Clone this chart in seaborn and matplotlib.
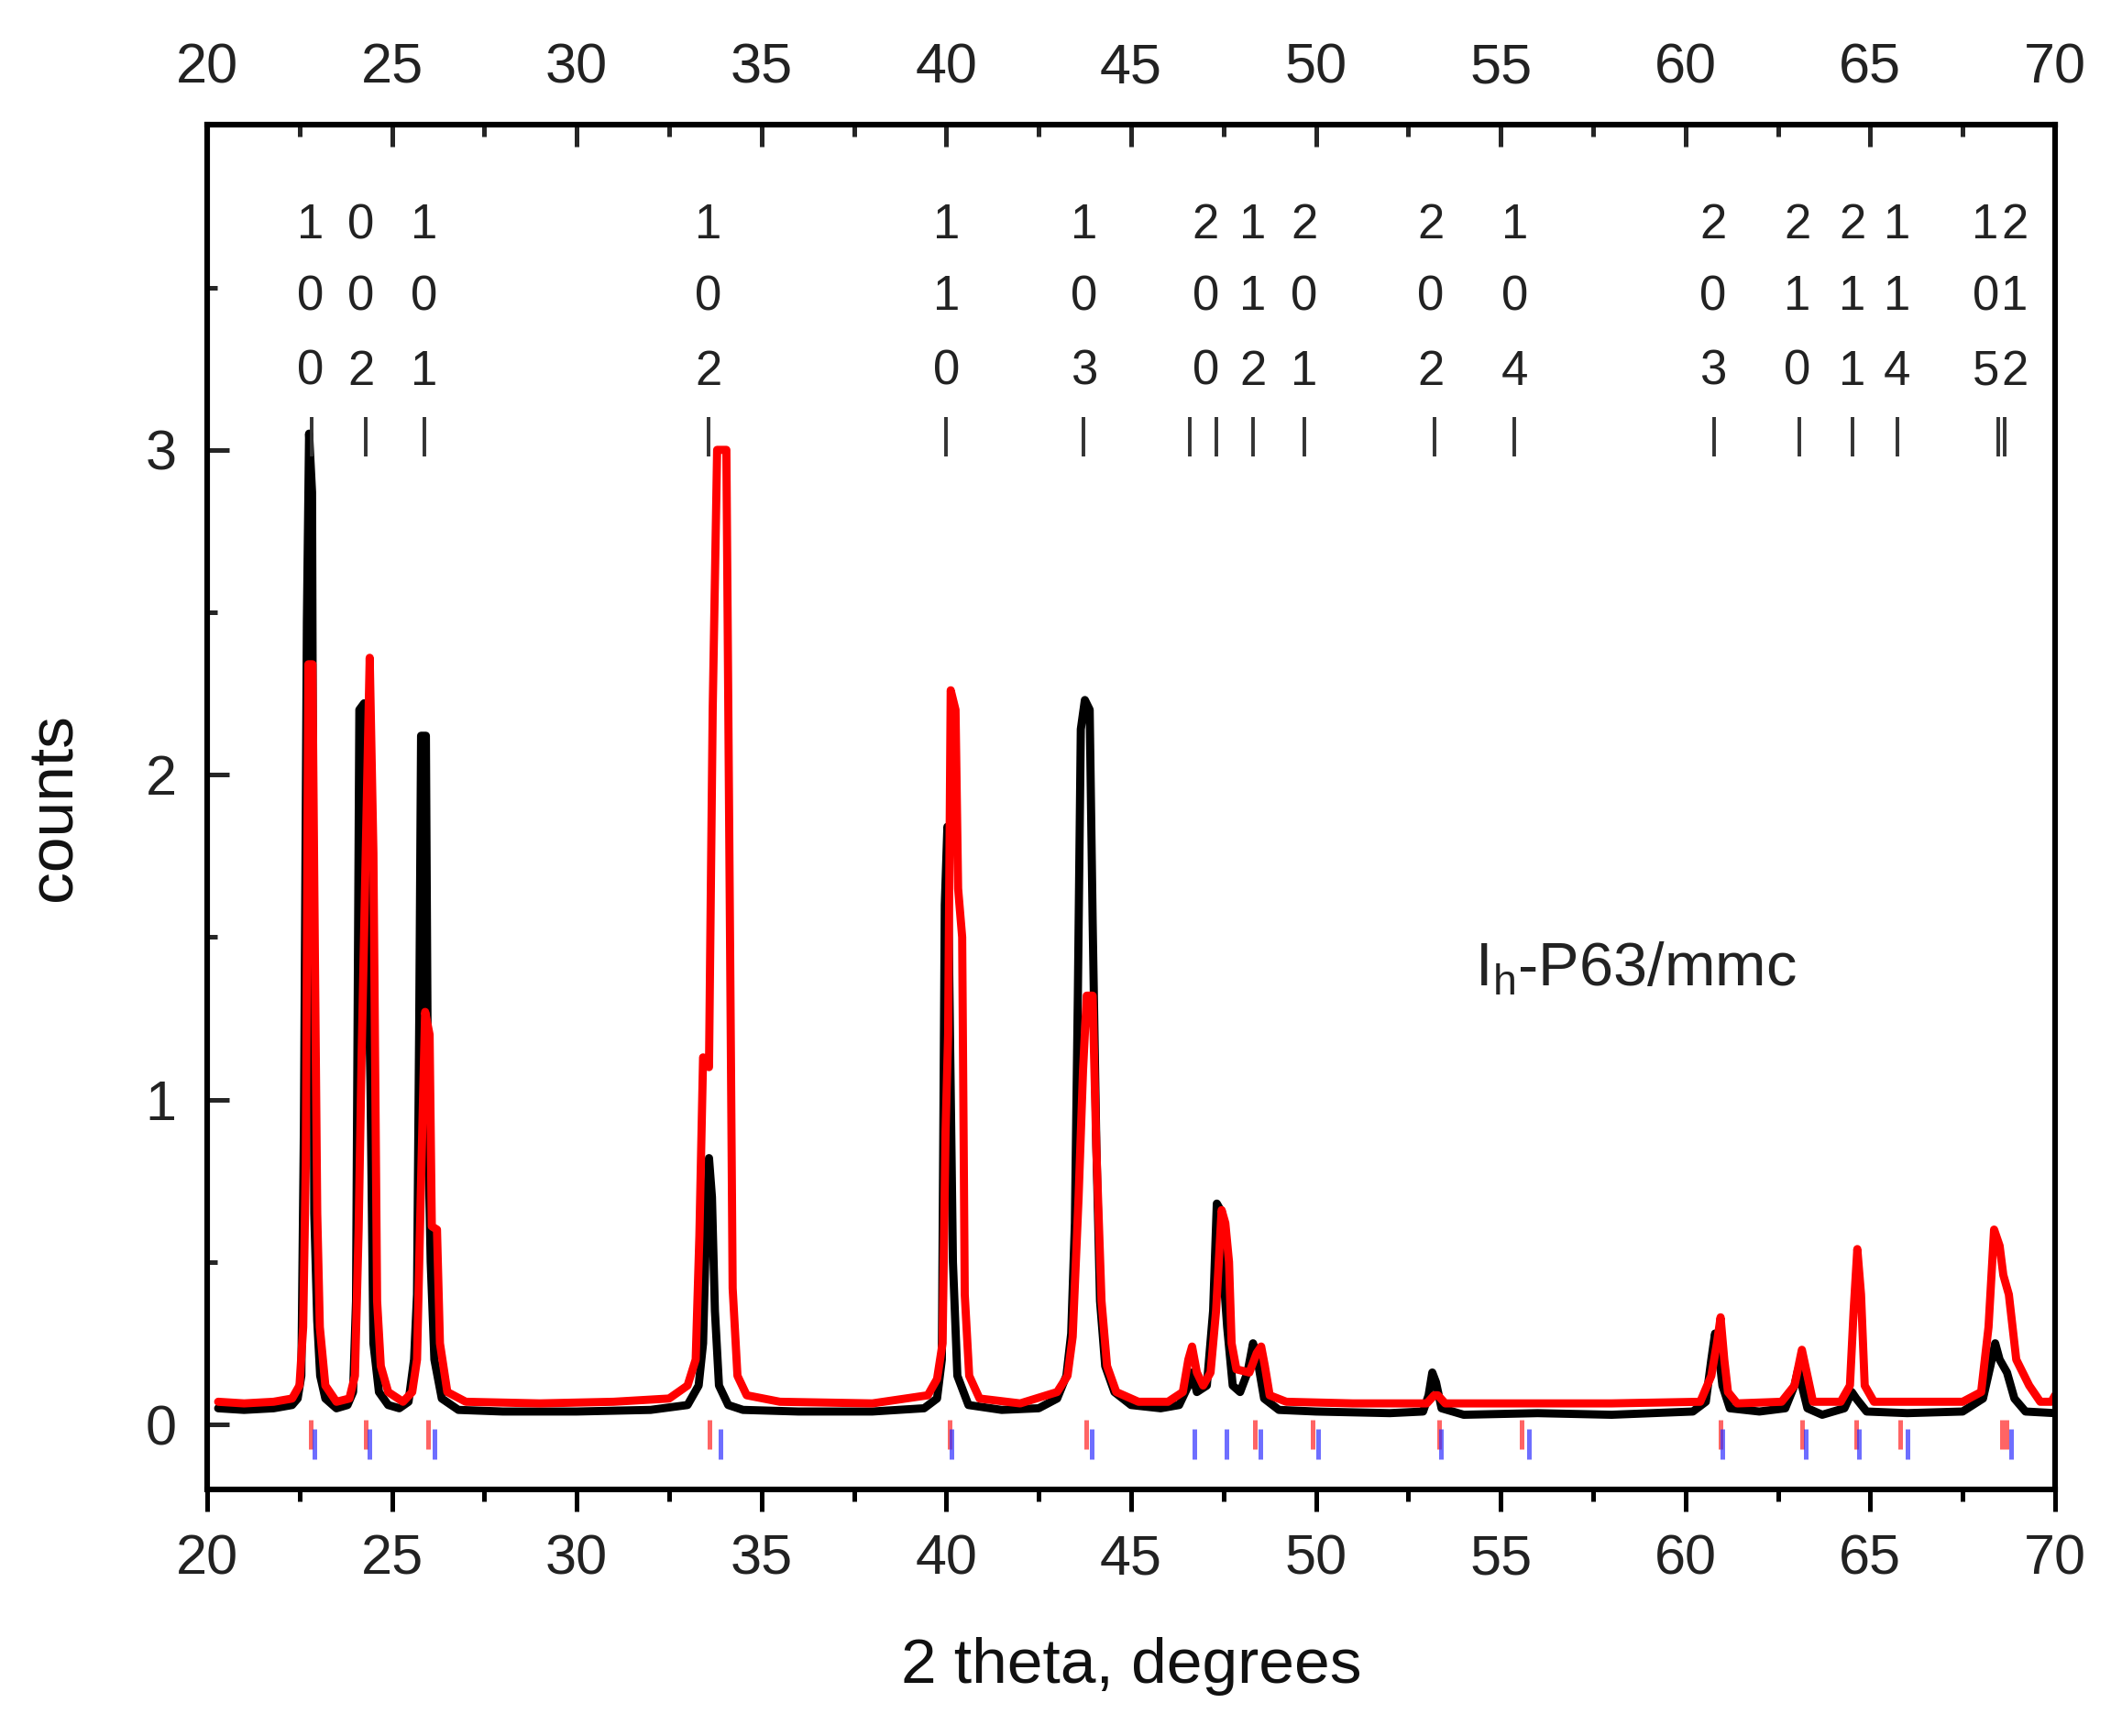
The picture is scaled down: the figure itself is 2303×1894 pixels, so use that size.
import numpy as np
import pandas as pd
import matplotlib
matplotlib.use("Agg")
import matplotlib.pyplot as plt
import seaborn as sns

sns.set_style("white")
plt.rcParams['font.family'] = ['Liberation Sans', 'DejaVu Sans']
plt.rcParams['mathtext.default'] = 'regular'

# ---------------- data ----------------
black_x = [20.3, 21.0, 21.8, 22.3, 22.45, 22.55, 22.62, 22.70, 22.76, 22.84, 22.90, 22.98, 23.06, 23.2, 23.5,
           23.8, 23.95, 24.03, 24.12, 24.25, 24.32, 24.42, 24.5, 24.65, 24.9, 25.2, 25.45, 25.6, 25.68, 25.74,
           25.79, 25.92, 25.98, 26.05, 26.15, 26.35, 26.8, 28, 30, 32, 33.0, 33.3, 33.42, 33.5, 33.58, 33.66,
           33.74, 33.85, 34.1, 34.5, 36, 38, 39.4, 39.75, 39.88, 39.96, 40.03, 40.1, 40.18, 40.3, 40.6, 41.5,
           42.5, 43.0, 43.25, 43.38, 43.48, 43.56, 43.64, 43.75, 43.88, 43.96, 44.06, 44.16, 44.3, 44.55, 45.0,
           45.8, 46.3, 46.55, 46.65, 46.78, 47.05, 47.22, 47.32, 47.42, 47.5, 47.6, 47.75, 47.95, 48.15, 48.3,
           48.42, 48.6, 49.0, 50, 52, 52.9, 53.05, 53.15, 53.25, 53.4, 54.0, 56, 58, 60.2, 60.55, 60.7, 60.8,
           60.9, 61.0, 61.2, 62.0, 62.7, 62.95, 63.05, 63.15, 63.3, 63.7, 64.3, 64.5, 64.62, 64.9, 66, 67.5,
           68.05, 68.25, 68.38, 68.5, 68.7, 68.9, 69.2, 70]
black_y = [0.05, 0.045, 0.05, 0.06, 0.08, 0.15, 0.92, 2.47, 3.05, 2.87, 0.65, 0.32, 0.15, 0.08, 0.05,
           0.06, 0.1, 0.38, 2.20, 2.22, 1.7, 1.05, 0.25, 0.10, 0.06, 0.05, 0.07, 0.2, 0.4, 1.24,
           2.12, 2.12, 0.9, 0.5, 0.2, 0.08, 0.045, 0.04, 0.04, 0.045, 0.06, 0.12, 0.25, 0.6, 0.82, 0.7,
           0.35, 0.12, 0.06, 0.045, 0.04, 0.04, 0.05, 0.08, 0.2, 1.6, 1.84, 1.2, 0.5, 0.15, 0.06, 0.045,
           0.05, 0.08, 0.15, 0.28, 0.62, 1.32, 2.14, 2.23, 2.2, 1.55, 0.86, 0.38, 0.18, 0.1, 0.06,
           0.05, 0.06, 0.12, 0.16, 0.1, 0.12, 0.35, 0.68, 0.66, 0.46, 0.3, 0.12, 0.1, 0.16, 0.25,
           0.2, 0.08, 0.045, 0.04, 0.035, 0.04, 0.09, 0.16, 0.13, 0.05, 0.03, 0.035, 0.03, 0.04, 0.07, 0.2, 0.28,
           0.22, 0.12, 0.05, 0.04, 0.05, 0.12, 0.17, 0.12, 0.05, 0.03, 0.05, 0.1, 0.08, 0.04, 0.035, 0.04,
           0.08, 0.18, 0.25, 0.2, 0.16, 0.08, 0.04, 0.035]

red_x = [20.3, 21.0, 21.8, 22.3, 22.5, 22.6, 22.67, 22.74, 22.85, 22.92, 22.98, 23.05, 23.2, 23.5,
         23.85, 24.0, 24.1, 24.18, 24.3, 24.4, 24.5, 24.6, 24.7, 24.9, 25.3, 25.55, 25.68, 25.8, 25.9,
         26.02, 26.08, 26.22, 26.3, 26.5, 27, 29, 31, 32.5, 33.0, 33.22, 33.32, 33.42, 33.58, 33.68, 33.8,
         34.05, 34.15, 34.22, 34.35, 34.6, 35.5, 38, 39.5, 39.75, 39.9, 39.98, 40.05, 40.12, 40.25, 40.32,
         40.43, 40.5, 40.62, 40.9, 42, 43.0, 43.28, 43.42, 43.58, 43.7, 43.8, 43.96, 44.06, 44.2, 44.35,
         44.6, 45.2, 46.0, 46.4, 46.55, 46.65, 46.78, 46.95, 47.15, 47.3, 47.45, 47.55, 47.65, 47.72,
         47.85, 48.2, 48.4, 48.52, 48.62, 48.75, 49.2, 51, 53.0, 53.2, 53.3, 53.5, 56, 58, 60.4, 60.7,
         60.85, 60.95, 61.05, 61.15, 61.4, 62.6, 62.95, 63.15, 63.3, 63.45, 64.2, 64.45, 64.55, 64.65,
         64.75, 64.85, 65.1, 67.5, 68.0, 68.2, 68.35, 68.5, 68.6, 68.75, 68.95, 69.3, 69.6, 69.9, 70]
red_y = [0.07, 0.065, 0.07, 0.08, 0.12, 0.3, 0.80, 2.34, 2.34, 1.40, 0.65, 0.30, 0.12, 0.07,
         0.08, 0.15, 0.6, 1.13, 1.8, 2.36, 1.76, 0.38, 0.18, 0.1, 0.07, 0.1, 0.2, 0.8, 1.27,
         1.2, 0.61, 0.6, 0.25, 0.1, 0.07, 0.065, 0.07, 0.08, 0.12, 0.2, 0.58, 1.13, 1.10, 2.2, 3.0,
         3.0, 1.5, 0.42, 0.15, 0.09, 0.07, 0.065, 0.09, 0.14, 0.25, 0.9, 1.2, 2.26, 2.2, 1.65,
         1.5, 0.4, 0.15, 0.08, 0.065, 0.1, 0.15, 0.27, 0.7, 1.09, 1.32, 1.32, 0.85, 0.38, 0.18,
         0.1, 0.07, 0.07, 0.1, 0.2, 0.24, 0.16, 0.12, 0.16, 0.35, 0.66, 0.62, 0.5, 0.25,
         0.17, 0.16, 0.22, 0.24, 0.18, 0.09, 0.07, 0.065, 0.065, 0.09, 0.09, 0.065, 0.065, 0.065, 0.07, 0.15,
         0.25, 0.33, 0.2, 0.1, 0.065, 0.07, 0.12, 0.23, 0.15, 0.07, 0.07, 0.12, 0.35, 0.54,
         0.4, 0.12, 0.07, 0.07, 0.1, 0.3, 0.6, 0.55, 0.46, 0.4, 0.2, 0.12, 0.07, 0.07, 0.09]

# hkl stick positions (black marks) and labels
stick_pos = [22.82, 24.3, 25.88, 33.57, 40.0, 43.72, 46.58, 47.3, 48.31, 49.7, 53.2, 55.38,
             60.77, 63.08, 64.52, 65.73, 68.46, 68.63]
hkl_labels = ["100", "002", "101", "102", "110", "103", "200", "112", "201", "202", "104",
              "203", "210", "211", "114", "105", "212"]
hkl_pos = [22.8, 24.17, 25.88, 33.57, 40.0, 43.72, 47.02, 48.3, 49.68, 53.1, 55.38,
           60.75, 63.02, 64.52, 65.73, 68.12, 68.9]

# reflection ticks of the two phases (bottom)
red_refl = [22.8, 24.29, 25.98, 33.6, 40.1, 43.78, 48.36, 49.9, 53.33, 55.56, 60.96, 63.15,
            64.62, 65.8, 68.55, 68.68]
blue_refl = [22.9, 24.4, 26.15, 33.9, 40.15, 43.93, 46.72, 47.57, 48.5, 50.05, 53.38, 55.76,
             61.0, 63.26, 64.7, 66.0, 68.8]

xticks = [20, 25, 30, 35, 40, 45, 50, 55, 60, 65, 70]
yticks = [0, 1, 2, 3]

# ---------------- figure ----------------
fig = plt.figure(figsize=(2303 / 200, 1894 / 200), dpi=200)
ax = fig.add_axes([0.0981, 0.142, 0.8754, 0.786])

dfb = pd.DataFrame({"x": black_x, "y": black_y})
dfr = pd.DataFrame({"x": red_x, "y": red_y})
sns.lineplot(data=dfb, x="x", y="y", ax=ax, color="black", lw=3.2, sort=False, estimator=None)
sns.lineplot(data=dfr, x="x", y="y", ax=ax, color="#ff0000", lw=3.2, sort=False, estimator=None)

# hkl sticks and labels
ax.vlines(stick_pos, 2.98, 3.10, color="#333333", lw=1.4)
for pos, lab in zip(hkl_pos, hkl_labels):
    for i, ch in enumerate(lab):
        ax.text(pos, [3.69, 3.47, 3.24][i], ch, ha="center", va="center",
                fontsize=19, color="#222222")

# reflection ticks
ax.vlines(red_refl, -0.075, 0.015, color="#ff3030", lw=1.8, alpha=0.75)
ax.vlines(blue_refl, -0.108, -0.015, color="#3030ff", lw=1.8, alpha=0.7)

ax.text(54.3, 1.40, r"I$_{h}$-P63/mmc", fontsize=24, color="#222222", ha="left", va="center")

ax.set_xlim(20, 70)
ax.set_ylim(-0.2, 4.0)
ax.set_xticks(xticks)
ax.set_xticks(np.arange(22.5, 70, 5), minor=True)
ax.set_yticks(yticks)
ax.set_yticks([0.5, 1.5, 2.5, 3.5], minor=True)
ax.set_xlabel("2 theta, degrees", fontsize=25, labelpad=20, color="#111111")
ax.set_ylabel("counts", fontsize=25, labelpad=24, color="#111111")

for s in ax.spines.values():
    s.set_linewidth(2.2)
    s.set_color("black")

ax.tick_params(axis="x", which="both", direction="out", bottom=True, top=False,
               labelsize=22, pad=9, width=1.8, colors="black", labelcolor="#222222")
ax.tick_params(axis="x", which="major", length=8.5)
ax.tick_params(axis="x", which="minor", length=4.5)
ax.tick_params(axis="y", which="both", direction="in", left=True, right=False,
               labelsize=22, pad=12, width=1.8, labelcolor="#222222")
ax.tick_params(axis="y", which="major", length=8.5)
ax.tick_params(axis="y", which="minor", length=4)

sec = ax.secondary_xaxis("top")
sec.set_xticks(xticks)
sec.set_xticks(np.arange(22.5, 70, 5), minor=True)
sec.tick_params(axis="x", which="both", direction="in", labelsize=22, pad=12, width=1.8,
                labelcolor="#222222")
sec.tick_params(axis="x", which="major", length=8.5)
sec.tick_params(axis="x", which="minor", length=4.5)
sec.spines["top"].set_linewidth(2.2)

fig.savefig("out.png", dpi=200)
